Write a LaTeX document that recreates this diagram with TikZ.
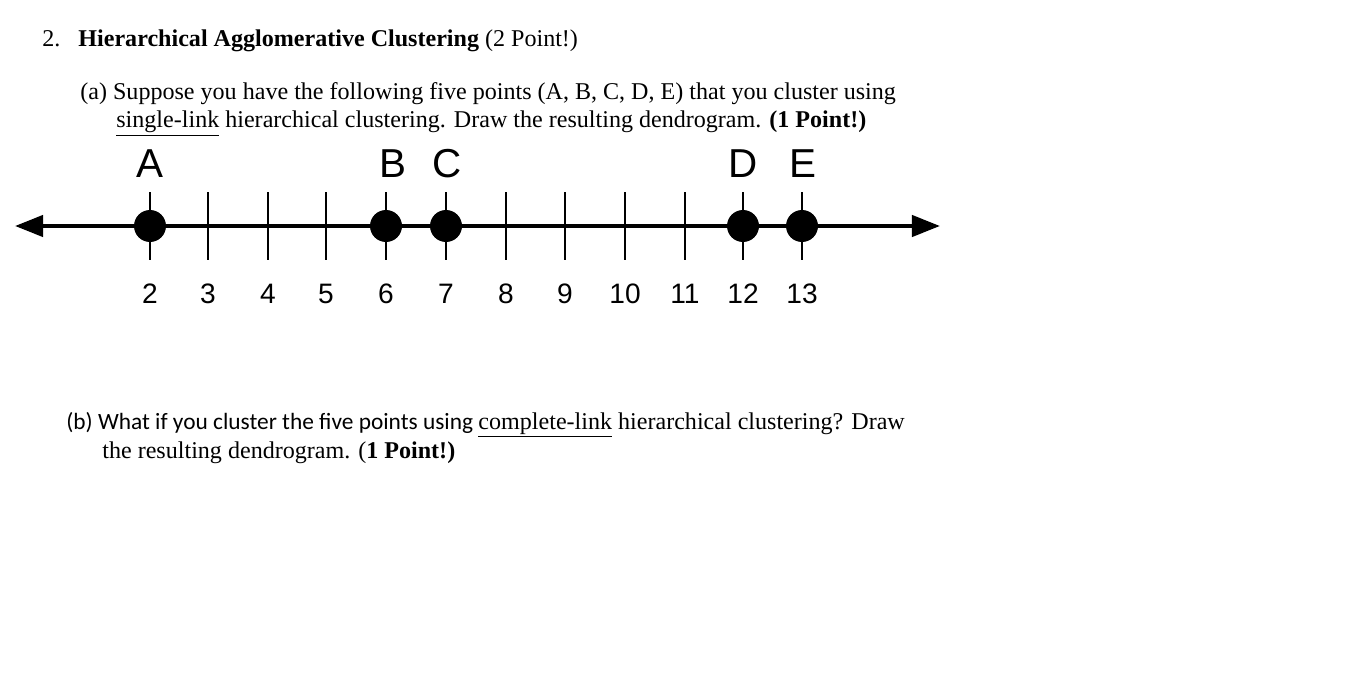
\documentclass[tikz,border=0pt]{standalone}
\usepackage{fontspec}
\setmainfont{Liberation Serif}
\newfontfamily\helv{Liberation Sans}
\newfontfamily\calib{Carlito}
\usetikzlibrary{arrows.meta}
\newcommand{\ul}[1]{\tikz[baseline=(u.base)]\node[inner sep=0,outer sep=0] (u) {#1} ; }
\begin{document}
\begin{tikzpicture}[x=0.02cm,y=-0.02cm,
  txt/.style={anchor=base west,inner sep=0,font=\fontsize{13.7pt}{16pt}\selectfont},
  num/.style={anchor=base,inner sep=0,font=\helv\fontsize{16pt}{18pt}\selectfont},
  let/.style={anchor=base,inner sep=0,font=\helv\fontsize{23pt}{26pt}\selectfont},
  tick/.style={line width=1.6pt},
  dot/.style={circle,fill=black,minimum size=0.64cm,inner sep=0}]
\useasboundingbox (0,0) rectangle (1362,696);
\node[txt] (t1) at (42,47) {2.\hspace{0.75em}\textbf{Hierarchical Agglomerative Clustering} (2 Point!)};
\node[txt] (t2) at (80,100) {(a) Suppose you have the following five points (A, B, C, D, E) that you cluster using};
\node[txt] (t3) at (116,128) {\underline{single-link} hierarchical clustering. Draw the resulting dendrogram. \textbf{(1 Point!)}};
\node[txt] (t4) at (66,429) {{\calib\fontsize{13.3pt}{16pt}\selectfont(b) What if you cluster the five points using }\underline{complete-link} hierarchical clustering? Draw};
\node[txt] (t5) at (102,458) {the resulting dendrogram. (\textbf{1 Point!)}};
\coordinate (L) at (15,226); \coordinate (R) at (940,226);
\draw[line width=2.4pt,{Triangle[length=16pt,width=12pt]}-{Triangle[length=16pt,width=12pt]}] (L) -- (R);
\foreach \n/\x in {2/150,3/208,4/268,5/326,6/386,7/446,8/506,9/565,10/625,11/685,12/743,13/802}{
  \draw[tick] (\x,192) -- (\x,260);
  \node[num] (n\n) at (\x,303) {\n};
}
\foreach \n/\x in {A/150,B/386,C/446,D/743,E/802}{
  \node[dot] (p\n) at (\x,226) {};
}
\node[let] (lA) at (150,177) {A};
\node[let] (lB) at (393,177) {B};
\node[let] (lC) at (447,177) {C};
\node[let] (lD) at (743,177) {D};
\node[let] (lE) at (803,177) {E};
\end{tikzpicture}
\end{document}
